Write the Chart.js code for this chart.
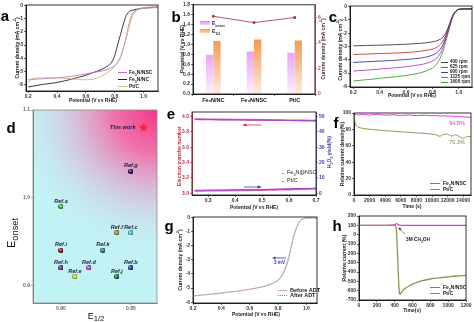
<!DOCTYPE html>
<html>
<head>
<meta charset="utf-8">
<script src="https://cdn.jsdelivr.net/npm/chart.js@4.4.0/dist/chart.umd.min.js"></script>
<style>
html, body { margin: 0; padding: 0; background: #fff; }
#fig { position: relative; width: 474px; height: 322px; overflow: hidden; font-family: "Liberation Sans", Arial, sans-serif; }
#fig canvas { position: absolute; }
#fig svg { position: absolute; left: 0; top: 0; }
.t { position: absolute; white-space: nowrap; font-weight: bold; font-size: 5px; color: #222; transform: translate(-50%, -50%); line-height: 1; }
.r { transform: translate(-50%, -50%) rotate(-90deg); }
.lt { position: absolute; white-space: nowrap; font-weight: bold; font-size: 5px; color: #222; transform: translateY(-50%); line-height: 1; }
.L { position: absolute; font-weight: bold; font-size: 15px; color: #000; transform: translate(-50%, -50%); line-height: 1; }
.sw { position: absolute; height: 0; }
sub, sup { font-size: 70%; line-height: 0; }
</style>
</head>
<body>
<div id="fig"></div>
<script>
// a - LSV of three catalysts
var aPotential = [0.2, 0.22, 0.25, 0.3, 0.4, 0.5, 0.6, 0.65, 0.7, 0.75, 0.78, 0.8, 0.82, 0.84, 0.86, 0.88, 0.9, 0.92, 0.94, 0.96, 1.0, 1.05, 1.1]
var aFe3N_NSC = [-5.65, -5.63, -5.6, -5.57, -5.5, -5.38, -5.2, -5.1, -5.0, -4.85, -4.72, -4.58, -4.35, -3.95, -3.25, -2.35, -1.35, -0.7, -0.4, -0.27, -0.15, -0.1, -0.08]
var aFe3N_NC = [-6.2, -6.15, -6.1, -6.0, -5.85, -5.6, -5.3, -5.1, -4.9, -4.6, -4.3, -3.8, -3.0, -2.2, -1.4, -0.75, -0.45, -0.35, -0.3, -0.25, -0.2, -0.15, -0.12]
var aPtC = [-5.9, -5.6, -5.52, -5.5, -5.5, -5.58, -5.65, -5.6, -5.4, -5.1, -4.85, -4.6, -4.25, -3.85, -3.2, -2.5, -1.6, -0.9, -0.5, -0.33, -0.2, -0.17, -0.15]
var potentialTicks = [0.2, 0.4, 0.6, 0.8, 1.0]
var currentTicks = [-6, -5, -4, -3, -2, -1, 0]

// b - onset / half-wave potentials and limiting current
var bCatalysts = ['Fe₃N/NC', 'Fe₃N/NSC', 'Pt/C']
var bEonset = [0.79, 0.86, 0.83]
var bEhalf = [1.07, 1.10, 1.08]
var bLimiting = [6.1, 5.6, 6.0]
var bTicksY = [0, 0.2, 0.4, 0.6, 0.8, 1.0, 1.2, 1.4, 1.6, 1.8]
var bTicksY1 = [0, 2, 4, 6]

// c - rotation speeds
var cSpeeds = ['400 rpm', '625 rpm', '900 rpm', '1225 rpm', '1600 rpm']
var cPotential = [0.2, 0.3, 0.4, 0.5, 0.6, 0.7, 0.75, 0.8, 0.83, 0.86, 0.88, 0.9, 0.92, 0.94, 0.96, 0.98, 1.0, 1.05, 1.1]
var c400 = [-2.95, -2.92, -2.9, -2.87, -2.83, -2.77, -2.72, -2.65, -2.58, -2.45, -2.3, -2.0, -1.55, -1.0, -0.55, -0.3, -0.2, -0.17, -0.16]
var c625 = [-3.6, -3.57, -3.53, -3.5, -3.45, -3.37, -3.3, -3.2, -3.08, -2.85, -2.6, -2.2, -1.65, -1.05, -0.58, -0.31, -0.2, -0.17, -0.16]
var c900 = [-4.2, -4.15, -4.1, -4.05, -3.98, -3.88, -3.8, -3.65, -3.5, -3.2, -2.85, -2.35, -1.75, -1.1, -0.6, -0.32, -0.2, -0.17, -0.16]
var c1225 = [-4.85, -4.78, -4.7, -4.62, -4.52, -4.38, -4.28, -4.1, -3.9, -3.5, -3.1, -2.5, -1.85, -1.15, -0.62, -0.33, -0.2, -0.17, -0.16]
var c1600 = [-5.6, -5.5, -5.4, -5.3, -5.18, -5.0, -4.85, -4.62, -4.35, -3.85, -3.35, -2.65, -1.95, -1.2, -0.65, -0.34, -0.21, -0.17, -0.16]

// d - comparison with literature
var dLabels = ['This work', 'Ref.a', 'Ref.b', 'Ref.c', 'Ref.d', 'Ref.e', 'Ref.f', 'Ref.g', 'Ref.h', 'Ref.i', 'Ref.j', 'Ref.k']
var dEhalf = [0.859, 0.800, 0.850, 0.850, 0.820, 0.810, 0.840, 0.850, 0.800, 0.800, 0.840, 0.830]
var dEonset = [1.080, 0.990, 0.920, 0.960, 0.920, 0.910, 0.960, 1.030, 0.920, 0.940, 0.910, 0.940]
var dColors = ['#ff1f2f', '#3cc83c', '#1838c8', '#48dce4', '#e038e0', '#e8e838', '#989838', '#281068', '#682888', '#881828', '#187828', '#288888']
var dTicksX = [0.80, 0.85]
var dTicksY = [0.9, 1.0, 1.1]

// e - electron transfer number and H2O2 yield
var ePotential = [0.25, 0.3, 0.35, 0.4, 0.45, 0.5, 0.55, 0.6, 0.65, 0.7]
var eEtnNSC = [3.968, 3.966, 3.964, 3.962, 3.960, 3.958, 3.956, 3.953, 3.951, 3.948]
var eEtnPtC = [3.962, 3.960, 3.958, 3.957, 3.955, 3.953, 3.951, 3.949, 3.947, 3.945]
var eYieldNSC = [1.6, 1.7, 1.8, 1.9, 2.0, 2.1, 2.3, 2.5, 2.7, 3.0]
var eYieldPtC = [1.9, 2.0, 2.1, 2.2, 2.3, 2.5, 2.7, 2.9, 3.1, 3.3]
var eTicksX = [0.3, 0.4, 0.5, 0.6, 0.7]
var eTicksY = [3.0, 3.2, 3.4, 3.6, 3.8, 4.0]
var eTicksY1 = [0, 10, 20, 30, 40, 50]

// f - stability
var fTime = [0, 100, 300, 600, 1000, 2000, 3000, 4000, 5000, 6000, 7000, 8000, 9000, 10000, 10500, 11000, 11500, 12000, 12500, 13000, 13500, 14000, 14300, 14600, 15000]
var fNSC = [98.5, 98.2, 98, 97.6, 98.2, 97.5, 98.3, 97.4, 97.8, 97.1, 97.6, 96.8, 97.3, 96.7, 96.9, 96.2, 96.6, 96.0, 96.3, 95.6, 95.9, 95.2, 95.4, 94.9, 94.8]
var fPtC = [100, 90, 84, 82.5, 81.5, 80.2, 79.3, 78.5, 77.8, 77.1, 76.5, 75.8, 75.1, 74.3, 73.5, 71.6, 73.8, 74.2, 72.0, 73.5, 71.2, 68.8, 70.5, 71.5, 71.0]
var fTicksX = [0, 2000, 4000, 6000, 8000, 10000, 12000, 14000]
var fTicksY = [0, 20, 40, 60, 80, 100]

// g - accelerated durability test
var gPotential = [0.2, 0.3, 0.4, 0.5, 0.6, 0.7, 0.75, 0.8, 0.83, 0.86, 0.88, 0.9, 0.92, 0.94, 0.96, 0.98, 1.0, 1.05, 1.075]
var gBefore = [-5.55, -5.45, -5.35, -5.22, -5.08, -4.88, -4.72, -4.45, -4.1, -3.4, -2.7, -1.8, -1.05, -0.5, -0.22, -0.1, -0.06, -0.05, -0.05]
var gAfter = [-5.56, -5.46, -5.35, -5.23, -5.08, -4.87, -4.7, -4.42, -4.05, -3.32, -2.6, -1.72, -1.0, -0.47, -0.21, -0.1, -0.06, -0.05, -0.05]

// h - methanol tolerance
var hTime = [0, 100, 200, 300, 400, 410, 420, 430, 440, 450, 458, 470, 490, 520, 560, 600, 650, 700, 800, 900, 1000, 1100, 1200]
var hNSC = [100, 100, 100, 100, 105, 112, 118, 115, 108, 104, 102, 101, 100, 100, 100, 100, 100, 100, 100, 100, 100, 100, 100]
var hPtC = [100, 100, 100, 100, 100, 95, 40, -150, -400, -590, -640, -625, -600, -575, -550, -530, -510, -495, -475, -462, -452, -443, -436]
var hTicksX = [0, 200, 400, 600, 800, 1000, 1200]
var hTicksY = [-700, -600, -500, -400, -300, -200, -100, 0, 100, 200]

Chart.defaults.font.family = '"Liberation Sans", Arial, sans-serif'
Chart.defaults.font.size = 5
Chart.defaults.font.weight = 'bold'
Chart.defaults.color = '#333'

var fig = document.getElementById('fig')

var frame = {
    id: 'frame',
    afterDraw: function(ch, args, o) {
        var a = ch.chartArea, c = ch.ctx
        c.save()
        c.strokeStyle = o.color || '#000'
        c.lineWidth = 0.8
        c.strokeRect(a.left, a.top, a.right - a.left, a.bottom - a.top)
        if (o.right) {
            c.strokeStyle = o.right
            c.beginPath(); c.moveTo(a.right, a.top); c.lineTo(a.right, a.bottom); c.stroke()
        }
        c.restore()
    }
}

function lin(min, max, ticks, fmt, color, pos) {
    var c = color || '#000'
    return {
        type: 'linear', min: min, max: max, position: pos,
        afterBuildTicks: function(s) { s.ticks = ticks.map(function(v) { return {value: v} }) },
        ticks: {callback: function(v) { return fmt(v) }, color: color || '#333', padding: 1, autoSkip: false, maxRotation: 0},
        grid: {drawOnChartArea: false, tickLength: 2, color: c, lineWidth: 0.6},
        border: {color: c, width: 0.8}
    }
}

function series(xs, ys, color, w, extra) {
    var d = {
        data: xs.map(function(x, i) { return {x: x, y: ys[i]} }),
        borderColor: color, backgroundColor: color, borderWidth: w || 0.9,
        pointRadius: 0, fill: false, cubicInterpolationMode: 'monotone'
    }
    return Object.assign(d, extra || {})
}

// box = canvas [left, top, w, h], plot = chart area [left, top, right, bottom], page coords
function panel(box, plot, cfg) {
    var bx = box[0], by = box[1], bw = box[2], bh = box[3]
    var cv = document.createElement('canvas')
    cv.width = bw; cv.height = bh
    cv.style.left = bx + 'px'; cv.style.top = by + 'px'
    cv.style.width = bw + 'px'; cv.style.height = bh + 'px'
    fig.appendChild(cv)
    var o = cfg.options
    var hasRight = false
    Object.keys(o.scales).forEach(function(k) {
        var s = o.scales[k]
        if (k === 'x') s.afterFit = function(sc) { sc.height = by + bh - plot[3] }
        else if (s.position === 'right') { hasRight = true; s.afterFit = function(sc) { sc.width = bx + bw - plot[2] } }
        else s.afterFit = function(sc) { sc.width = plot[0] - bx }
    })
    o.layout = {padding: {left: 0, top: plot[1] - by, right: hasRight ? 0 : bx + bw - plot[2], bottom: 0}}
    o.responsive = false
    o.animation = false
    o.plugins = Object.assign({legend: {display: false}, tooltip: {enabled: false}}, o.plugins || {})
    return new Chart(cv, cfg)
}

function T(x, y, html, cls, css) {
    var d = document.createElement('div')
    d.className = cls || 't'
    d.innerHTML = html
    d.style.left = x + 'px'; d.style.top = y + 'px'
    if (css) d.style.cssText += css
    fig.appendChild(d)
}
function swatch(x1, x2, y, color, style, w) {
    var d = document.createElement('div')
    d.className = 'sw'
    d.style.cssText += 'left:' + x1 + 'px;top:' + y + 'px;width:' + (x2 - x1) + 'px;border-top:' + (w || 1) + 'px ' + (style || 'solid') + ' ' + color
    fig.appendChild(d)
}

var fmtInt = function(v) { return String(v) }
var fmt1 = function(v) { return v.toFixed(1) }

// ---------- a ----------
panel([0, 0, 162, 110], [26, 5, 158, 91], {
    type: 'line',
    data: {datasets: [
        series(aPotential, aPtC, '#c4bd78'),
        series(aPotential, aFe3N_NSC, '#cf6cc4'),
        series(aPotential, aFe3N_NC, '#222')
    ]},
    options: {scales: {
        x: lin(0.185, 1.1, potentialTicks, fmt1, null, 'bottom'),
        y: lin(-6.5, 0.05, currentTicks, fmtInt, null, 'left')
    }},
    plugins: [frame]
})

// ---------- b ----------
function barGrad(top, bottom) {
    return function(ctx) {
        var a = ctx.chart.chartArea
        if (!a) return top
        var g = ctx.chart.ctx.createLinearGradient(0, a.top + (a.bottom - a.top) * 0.4, 0, a.bottom)
        g.addColorStop(0, top)
        g.addColorStop(1, bottom)
        return g
    }
}
panel([160, 0, 172, 110], [193, 4, 315, 94], {
    type: 'bar',
    data: {labels: bCatalysts, datasets: [
        {data: bEonset, backgroundColor: barGrad('#e48af2', '#fdf2fd'), yAxisID: 'y', categoryPercentage: 0.36, barPercentage: 1, order: 2},
        {data: bEhalf, backgroundColor: barGrad('#f49a52', '#fdece0'), yAxisID: 'y', categoryPercentage: 0.36, barPercentage: 1, order: 2},
        {type: 'line', data: bLimiting, yAxisID: 'y1', borderColor: '#a3303e', backgroundColor: '#a3303e', borderWidth: 0.8,
            pointStyle: 'rect', pointRadius: 1.3, order: 1}
    ]},
    options: {scales: {
        x: {type: 'category', ticks: {font: {size: 5.5, weight: 'bold'}, color: '#111', padding: 1},
            grid: {drawOnChartArea: false, tickLength: 2, color: '#000', lineWidth: 0.6}, border: {color: '#000', width: 0.8}},
        y: lin(0, 1.8, bTicksY, fmt1, null, 'left'),
        y1: lin(0, 7, bTicksY1, fmtInt, '#b04858', 'right')
    }, plugins: {frame: {right: '#c04a5a'}}},
    plugins: [frame]
})

// ---------- c ----------
var cColors = ['#404040', '#c83c3c', '#3c3ca8', '#c040c0', '#40a040']
panel([330, 0, 144, 110], [350, 6, 472, 87], {
    type: 'line',
    data: {datasets: [c400, c625, c900, c1225, c1600].map(function(ys, i) { return series(cPotential, ys, cColors[i]) })},
    options: {scales: {
        x: lin(0.175, 1.1, potentialTicks, fmt1, null, 'bottom'),
        y: lin(-6.05, 0.05, currentTicks, fmtInt, null, 'left')
    }},
    plugins: [frame]
})

// ---------- d ----------
function darker(hex) {
    var n = parseInt(hex.slice(1), 16)
    var r = (n >> 16) * 0.45, g = ((n >> 8) & 255) * 0.45, b = (n & 255) * 0.45
    return 'rgb(' + (r | 0) + ',' + (g | 0) + ',' + (b | 0) + ')'
}
function sphere(col, r) {
    var c = document.createElement('canvas')
    c.width = c.height = r * 2
    var x = c.getContext('2d')
    var g = x.createRadialGradient(r * 0.7, r * 0.7, r * 0.1, r, r, r)
    g.addColorStop(0, '#fff')
    g.addColorStop(0.35, col)
    g.addColorStop(1, darker(col))
    x.fillStyle = g
    x.beginPath(); x.arc(r, r, r, 0, Math.PI * 2); x.fill()
    return c
}
function starImg(col, R) {
    var c = document.createElement('canvas')
    c.width = c.height = R * 2
    var x = c.getContext('2d')
    x.fillStyle = col
    x.beginPath()
    for (var i = 0; i < 10; i++) {
        var rad = i % 2 ? R * 0.45 : R
        var ang = -Math.PI / 2 + i * Math.PI / 5
        x.lineTo(R + rad * Math.cos(ang), R + rad * Math.sin(ang))
    }
    x.closePath(); x.fill()
    return c
}
var dImgs = dColors.map(function(c, i) { return i === 0 ? starImg(c, 5) : sphere(c, 2.6) })
var dDecor = {
    id: 'dDecor',
    beforeDraw: function(ch) {
        var a = ch.chartArea, c = ch.ctx
        c.save()
        c.fillStyle = '#c2f3f4'
        c.fillRect(a.left, a.top, a.width, a.height)
        var g = c.createRadialGradient(a.right, a.top, 0, a.right, a.top, 150)
        g.addColorStop(0, 'rgba(248,50,135,1)')
        g.addColorStop(0.3, 'rgba(242,105,165,0.9)')
        g.addColorStop(0.62, 'rgba(220,178,212,0.55)')
        g.addColorStop(1, 'rgba(194,243,244,0)')
        c.fillStyle = g
        c.fillRect(a.left, a.top, a.width, a.height)
        c.restore()
    },
    afterDatasetsDraw: function(ch) {
        var c = ch.ctx, pts = ch.getDatasetMeta(0).data
        c.save()
        c.font = 'italic bold 5.5px "Liberation Sans", Arial'
        c.fillStyle = '#1c1c3c'
        pts.forEach(function(p, i) {
            if (i === 0) {
                c.textAlign = 'right'; c.textBaseline = 'middle'
                c.fillText(dLabels[i], p.x - 8, p.y)
            } else {
                c.textAlign = 'center'; c.textBaseline = 'alphabetic'
                c.fillText(dLabels[i], p.x, p.y - 4)
            }
        })
        c.restore()
    }
}
panel([0, 104, 162, 218], [33, 110, 157, 303], {
    type: 'scatter',
    data: {datasets: [{data: dEhalf.map(function(x, i) { return {x: x, y: dEonset[i]} }), pointStyle: dImgs, pointRadius: 3}]},
    options: {scales: {
        x: lin(0.78, 0.8687, dTicksX, function(v) { return v.toFixed(2) }, '#666', 'bottom'),
        y: lin(0.88, 1.1, dTicksY, fmt1, '#666', 'left')
    }, plugins: {frame: {color: '#888'}}},
    plugins: [dDecor, frame]
})

// ---------- e ----------
panel([160, 106, 172, 109], [192, 112, 316, 195], {
    type: 'line',
    data: {datasets: [
        series(ePotential, eEtnPtC, '#a848c8', 1.2, {yAxisID: 'y'}),
        series(ePotential, eEtnNSC, '#dc5cb8', 1.6, {yAxisID: 'y'}),
        series(ePotential, eYieldPtC, '#a848c8', 1.2, {yAxisID: 'y1'}),
        series(ePotential, eYieldNSC, '#dc5cb8', 1.8, {yAxisID: 'y1'})
    ]},
    options: {scales: {
        x: lin(0.24, 0.7, eTicksX, fmt1, null, 'bottom'),
        y: lin(2.978, 4.06, eTicksY, fmt1, '#c83040', 'left'),
        y1: lin(-1.1, 53, eTicksY1, fmtInt, '#3a3aa8', 'right')
    }},
    plugins: [frame]
})

// ---------- f ----------
panel([330, 106, 144, 109], [354, 113, 471, 195], {
    type: 'line',
    data: {datasets: [
        series(fTime, fPtC, '#8c9652', 1, {cubicInterpolationMode: 'default', tension: 0.3}),
        series(fTime, fNSC, '#d040d0', 1, {cubicInterpolationMode: 'default', tension: 0.3})
    ]},
    options: {scales: {
        x: lin(0, 15000, fTicksX, fmtInt, null, 'bottom'),
        y: lin(0, 100, fTicksY, fmtInt, null, 'left')
    }},
    plugins: [frame]
})

// ---------- g ----------
panel([160, 211, 165, 111], [193, 217, 317, 303], {
    type: 'line',
    data: {datasets: [
        series(gPotential, gBefore, '#c8a6c0', 1.1),
        series(gPotential, gAfter, '#9a6aa8', 0.8, {borderDash: [1, 1]})
    ]},
    options: {scales: {
        x: lin(0.2, 1.075, potentialTicks, fmt1, null, 'bottom'),
        y: lin(-6.05, 0.02, currentTicks, fmtInt, null, 'left')
    }},
    plugins: [frame]
})

// ---------- h ----------
panel([330, 211, 144, 111], [359, 216, 466, 300], {
    type: 'line',
    data: {datasets: [
        series(hTime, hPtC, '#8c9652', 1.3),
        series(hTime, hNSC, '#d040c8', 1.1)
    ]},
    options: {scales: {
        x: lin(0, 1200, hTicksX, fmtInt, null, 'bottom'),
        y: lin(-700, 200, hTicksY, fmtInt, null, 'left')
    }},
    plugins: [frame]
})

// ---------- labels, titles, legends ----------
T(5, 15, 'a', 'L'); T(176, 16, 'b', 'L'); T(333, 16, 'c', 'L'); T(11, 127, 'd', 'L')
T(171, 113, 'e', 'L'); T(336, 122, 'f', 'L'); T(169, 225, 'g', 'L'); T(337, 225, 'h', 'L')

var cd = 'Current density (mA cm<sup>-2</sup>)'
var pv = 'Potential (V vs RHE)'
T(93, 100, pv); T(17, 48, cd, 't r')
T(182, 49, pv, 't r'); T(323, 49, cd, 't r', 'color:#4a3434')
T(412, 95, pv); T(340, 50, cd, 't r')
T(11, 233, 'E<sub style="font-size:85%">onset</sub>', 't r', 'font-size:11px;font-weight:normal;color:#111')
T(96, 316, 'E<sub style="font-size:85%">1/2</sub>', 't', 'font-size:9px;font-weight:normal;color:#111')
T(254, 207, pv); T(179, 156, 'Electron transfer number', 't r', 'color:#c83040')
T(329, 152, 'H<sub>2</sub>O<sub>2</sub> yield(%)', 't r', 'color:#3a3aa8')
T(412, 206, 'Time (s)'); T(342, 154, 'Relative current density(%)', 't r')
T(256, 314, pv); T(180, 260, cd, 't r')
T(412, 310, 'Time(s)'); T(344, 258, 'Relative current (%)', 't r')

// a legend
swatch(118, 127, 72, '#cf6cc4'); T(129, 72, 'Fe<sub>3</sub>N/NSC', 'lt')
swatch(118, 127, 79, '#222'); T(129, 79, 'Fe<sub>3</sub>N/NC', 'lt')
swatch(118, 127, 86, '#c4bd78'); T(129, 86, 'Pt/C', 'lt')

// b legend
var bl = document.createElement('div')
bl.style.cssText = 'position:absolute;left:200px;top:21px;width:10px;height:4px;background:linear-gradient(#e48af2,#f6d2f8)'
fig.appendChild(bl)
var bl2 = document.createElement('div')
bl2.style.cssText = 'position:absolute;left:200px;top:29px;width:10px;height:4px;background:linear-gradient(#f49a52,#fbd6b8)'
fig.appendChild(bl2)
T(212, 23, 'E<sub>onset</sub>', 'lt'); T(212, 31, 'E<sub>1/2</sub>', 'lt')

// c legend
cSpeeds.forEach(function(s, i) {
    swatch(441, 448, 62 + i * 5, cColors[i])
    T(450, 62 + i * 5, s, 'lt', 'font-size:4.6px')
})

// e legend
var dot = function(x, y, c) {
    var d = document.createElement('div')
    d.style.cssText = 'position:absolute;left:' + x + 'px;top:' + y + 'px;width:1.5px;height:1.5px;border-radius:1px;background:' + c
    fig.appendChild(d)
}
dot(282, 172.5, '#dc5cb8'); T(287, 173, 'Fe<sub>3</sub>N@NSC', 'lt', 'font-weight:normal;font-size:5.5px')
dot(282, 180.5, '#a848c8'); T(287, 181, 'Pt/C', 'lt', 'font-weight:normal;font-size:5.5px')

// f legend and values
swatch(430, 440, 183, '#d040d0'); T(443, 183, 'Fe<sub>3</sub>N/NSC', 'lt')
swatch(430, 440, 189, '#8c9652'); T(443, 189, 'Pt/C', 'lt')
T(457, 124, '94.8%', 't', 'color:#c040c8;font-weight:normal;font-size:5.5px')
T(457, 143, '70.3%', 't', 'color:#7a8444;font-weight:normal;font-size:5.5px')

// g legend
swatch(278, 287, 290, '#c8a6c0'); T(290, 290.5, 'Before ADT', 'lt', 'font-size:5.5px')
swatch(278, 287, 295, '#9a6aa8', 'dotted'); T(290, 295.5, 'After ADT', 'lt', 'font-size:5.5px')
T(279.5, 262.5, '3 mV', 't', 'color:#3a3aa8;font-size:4.6px')

// h legend
swatch(430, 440, 287, '#d040c8'); T(443, 287, 'Fe<sub>3</sub>N/NSC', 'lt')
swatch(430, 440, 292.5, '#8c9652'); T(443, 292.5, 'Pt/C', 'lt')
T(418, 240, '3M CH<sub>3</sub>OH', 't', 'font-size:4.8px')

// arrows
var svg = '<svg width="474" height="322" xmlns="http://www.w3.org/2000/svg">' +
    '<line x1="261" y1="125" x2="245" y2="125" stroke="#d03040" stroke-width="0.8"/>' +
    '<polygon points="242,125 246.5,123.4 246.5,126.6" fill="#d03040"/>' +
    '<line x1="244" y1="187" x2="259" y2="187" stroke="#3040a0" stroke-width="0.8"/>' +
    '<polygon points="262,187 257.5,185.4 257.5,188.6" fill="#3040a0"/>' +
    '<line x1="286" y1="258" x2="275" y2="258" stroke="#3a3aa8" stroke-width="0.8"/>' +
    '<polygon points="272,258 275.5,256.6 275.5,259.4" fill="#3a3aa8"/>' +
    '<line x1="405" y1="234" x2="399.5" y2="229" stroke="#222" stroke-width="0.5"/>' +
    '<polygon points="398,227.5 401.5,228.8 400,230.4" fill="#222"/>' +
    '</svg>'
fig.insertAdjacentHTML('beforeend', svg)
</script>
</body>
</html>
